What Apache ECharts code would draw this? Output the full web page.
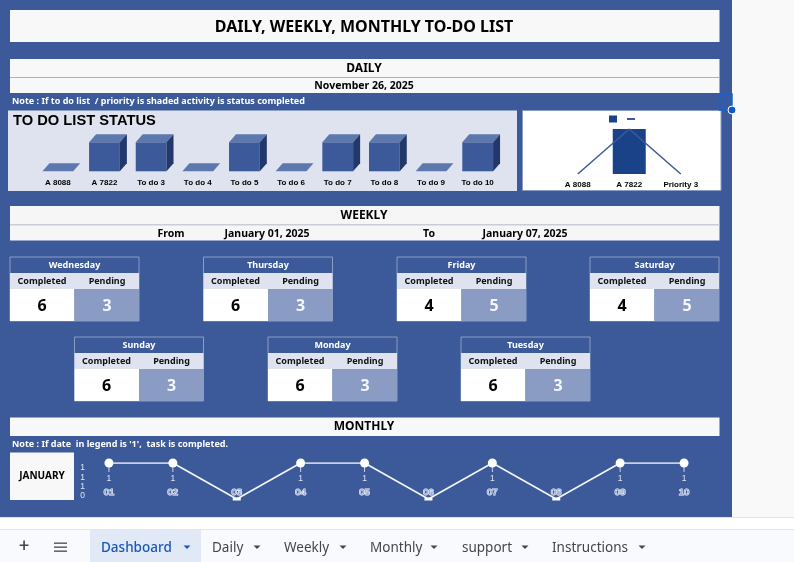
<!DOCTYPE html>
<html>
<head>
<meta charset="utf-8">
<style>
  html, body { margin: 0; padding: 0; background: #fff; }
  #main { width: 794px; height: 562px; }
</style>
</head>
<body>
<div id="main"></div>
<script src="https://cdn.jsdelivr.net/npm/echarts@6/dist/echarts.min.js"></script>
<script>
const todoNames = ['A 8088', 'A 7822', 'To do 3', 'To do 4', 'To do 5', 'To do 6', 'To do 7', 'To do 8', 'To do 9', 'To do 10'];
const todoStatus = [0, 1, 1, 0, 1, 0, 1, 1, 0, 1];

const priorityNames = ['A 8088', 'A 7822', 'Priority 3'];
const priorityBars = [0, 1, 0];
const priorityLine = [0, 1, 0];

const weekDays = ['Wednesday', 'Thursday', 'Friday', 'Saturday', 'Sunday', 'Monday', 'Tuesday'];
const completedCounts = [6, 6, 4, 4, 6, 6, 6];
const pendingCounts = [3, 3, 5, 5, 3, 3, 3];

const monthDays = ['01', '02', '03', '04', '05', '06', '07', '08', '09', '10'];
const monthStatus = [1, 1, 0, 1, 1, 0, 1, 0, 1, 1];
const monthTicks = ['0', '1', '1', '1'];

const sheetTabs = ['Dashboard', 'Daily', 'Weekly', 'Monthly', 'support', 'Instructions'];

const BLUE = '#3c5a99';
const HEAD_FONT = '"Noto Sans", sans-serif';
const LABEL_FONT = '"Liberation Sans", Arial, sans-serif';

function box(x, y, w, h, fill, stroke) {
    return {
        type: 'rect',
        z: 0,
        shape: { x: x, y: y, width: w, height: h },
        style: { fill: fill, stroke: stroke || null, lineWidth: stroke ? 1 : 0 }
    };
}

function label(text, x, y, size, color, align, weight, font) {
    return {
        type: 'text',
        z: 1,
        x: x,
        y: y,
        style: {
            text: text,
            fill: color,
            align: align || 'center',
            verticalAlign: 'middle',
            font: (weight || 'bold') + ' ' + size + 'px ' + (font || HEAD_FONT)
        }
    };
}

// sheet background and section headers
function sheetGraphics() {
    let g = [
        box(0, 0, 794, 562, '#ffffff'),
        box(732, 0, 62, 517, '#f9f9f9'),
        box(0, 0, 732, 517, BLUE),
        box(0, 517, 794, 1, '#e3e3e3'),
        box(0, 529, 794, 1, '#e3e6ea'),
        box(0, 530, 794, 32, '#f8fafd'),

        box(10, 10, 709.5, 32, '#f8f8f8'),
        label('DAILY, WEEKLY, MONTHLY TO-DO LIST', 364, 27, 16, '#000'),

        box(10, 59, 709.5, 34, '#f8f8f8'),
        box(10, 77, 709.5, 1, '#a3b0cf'),
        label('DAILY', 364, 68.5, 12, '#000'),
        label('November 26, 2025', 364, 86.5, 10.5, '#000'),
        label('Note : If to do list  / priority is shaded activity is status completed', 12, 101.5, 9, '#fff', 'left'),

        box(8, 110.5, 509, 80.5, '#dfe3ef'),
        label('TO DO LIST STATUS', 13, 121, 14.7, '#000', 'left', 'bold', LABEL_FONT),
        box(522.5, 110.5, 198.5, 80, '#ffffff', '#8a9bc4'),

        box(10, 206, 709.5, 34.5, '#f6f6f6'),
        box(10, 224, 709.5, 1.5, '#c9cdd6'),
        label('WEEKLY', 364, 215.5, 12, '#000'),
        label('From', 171, 234, 10.5, '#000'),
        label('January 01, 2025', 267, 234, 10.5, '#000'),
        label('To', 429, 234, 10.5, '#000'),
        label('January 07, 2025', 525, 234, 10.5, '#000'),

        box(10, 417.5, 709.5, 18.5, '#f8f8f8'),
        label('MONTHLY', 364, 427, 12, '#000'),
        label("Note : If date  in legend is '1',  task is completed.", 12, 444.5, 9, '#fff', 'left'),
        box(10, 452.5, 64, 47.5, '#f8f8f8'),
        label('JANUARY', 42, 476.5, 10, '#000')
    ];

    // weekly cards, four on the first row and three on the second
    const cardX = [10, 203.5, 397, 590, 74.5, 268, 461];
    const cardY = [257, 257, 257, 257, 337, 337, 337];
    weekDays.forEach(function (day, i) {
        let x = cardX[i], y = cardY[i];
        g.push(
            box(x, y, 129, 64, BLUE, '#8a9bc4'),
            box(x, y + 16, 129, 16, '#dfe3ef'),
            box(x, y + 32, 64.5, 32, '#ffffff'),
            box(x + 64.5, y + 32, 64.5, 32, '#8a9bc4'),
            label(day, x + 64.5, y + 8.5, 9, '#fff'),
            label('Completed', x + 32, y + 24.5, 9, '#111'),
            label('Pending', x + 97, y + 24.5, 9, '#111'),
            label(String(completedCounts[i]), x + 32, y + 49, 16, '#000'),
            label(String(pendingCounts[i]), x + 97, y + 49, 16, '#f4f6fb')
        );
    });

    // selection handle of the spreadsheet
    g.push({
        type: 'rect', z: 5,
        shape: { x: 719.5, y: 94, width: 12.5, height: 16 },
        style: { fill: 'rgba(26,95,208,0.2)', stroke: '#1a5fd0', lineWidth: 1.5 }
    }, {
        type: 'circle', z: 5,
        shape: { cx: 732, cy: 110, r: 4 },
        style: { fill: '#0f57d0', stroke: '#fff', lineWidth: 1 }
    });

    // tab strip
    const tabX = [101, 212, 284, 370, 462, 552];
    const caretX = [187, 257, 343, 434, 525, 642];
    g.push(box(90, 530, 111, 32, '#e1e9f7'));
    sheetTabs.forEach(function (tab, i) {
        let c = i === 0 ? '#1a57b5' : '#444746';
        g.push(label(tab, tabX[i], 548.5, 13.5, c, 'left', i === 0 ? '500' : 'normal'));
        g.push({
            type: 'polygon', z: 1,
            shape: { points: [[caretX[i] - 3.5, 545.5], [caretX[i] + 3.5, 545.5], [caretX[i], 549]] },
            style: { fill: c }
        });
    });
    g.push(label('+', 24, 547, 18, '#444746', 'center', 'normal', 'Roboto, sans-serif'));
    [543, 547, 551].forEach(function (y) {
        g.push(box(54, y - 0.5, 13, 1.3, '#444746'));
    });
    return g;
}

// 3D box: front face plus top and side faces, flat top only for empty values
function renderCube(params, api) {
    let i = api.value(0);
    let base = api.coord([i, 0]);
    let top = api.coord([i, api.value(1)]);
    let w = api.size([1, 0])[0] * 0.66;
    let dx = 7, dy = 8;
    let l = base[0] - w / 2, r = base[0] + w / 2;
    let children = [{
        type: 'polygon',
        shape: { points: [[l, top[1]], [l + dx, top[1] - dy], [r + dx, top[1] - dy], [r, top[1]]] },
        style: { fill: '#5d78ad' }
    }];
    if (base[1] - top[1] > 1) {
        children.push({
            type: 'rect',
            shape: { x: l, y: top[1], width: w, height: base[1] - top[1] },
            style: { fill: BLUE }
        }, {
            type: 'polygon',
            shape: { points: [[r, top[1]], [r + dx, top[1] - dy], [r + dx, base[1] - dy], [r, base[1]]] },
            style: { fill: '#22386a' }
        });
    }
    return { type: 'group', children: children };
}

// short leader from each filled marker down towards its value label
function renderLeader(params, api) {
    if (!api.value(1)) {
        return null;
    }
    let p = api.coord([api.value(0), api.value(1)]);
    return {
        type: 'line',
        shape: { x1: p[0], y1: p[1] + 3, x2: p[0], y2: p[1] + 9 },
        style: { stroke: '#c9d2e6', lineWidth: 1 }
    };
}

let myChart = echarts.init(document.getElementById('main'));

const tickLabel = { fontFamily: LABEL_FONT, fontWeight: 'bold', fontSize: 8, color: '#000', margin: 7 };
const hidden = { show: false };

let option = {
    animation: false,
    graphic: { elements: sheetGraphics() },
    legend: {
        left: 609,
        top: 115.5,
        itemWidth: 8,
        itemHeight: 7,
        itemGap: 10,
        padding: 0,
        selectedMode: false,
        formatter: function () { return ''; },
        data: [
            { name: 'Status', icon: 'rect' },
            { name: 'Priority', icon: 'path://M0 0H8V2H0Z' }
        ]
    },
    grid: [
        { left: 34.5, width: 466.5, top: 142.3, height: 29 },
        { left: 552, width: 154.5, top: 129, height: 45 },
        { left: 77, width: 639, top: 463, height: 36 },
        { left: 87, width: 10, top: 468, height: 27.5 }
    ],
    xAxis: [
        { gridIndex: 0, type: 'category', data: todoNames, axisLine: hidden, axisTick: hidden, axisLabel: Object.assign({ interval: 0 }, tickLabel) },
        { gridIndex: 1, type: 'category', data: priorityNames, axisLine: hidden, axisTick: hidden, axisLabel: Object.assign({ interval: 0 }, tickLabel) },
        {
            gridIndex: 2, type: 'category', data: monthDays, axisLine: hidden, axisTick: hidden,
            axisLabel: {
                interval: 0, inside: true, margin: 2, fontFamily: LABEL_FONT, fontSize: 9.5,
                color: '#8ea3cc', textBorderColor: '#f2f4fa', textBorderWidth: 1.2
            }
        },
        { gridIndex: 3, type: 'value', show: false }
    ],
    yAxis: [
        { gridIndex: 0, type: 'value', min: 0, max: 1, show: false },
        { gridIndex: 1, type: 'value', min: 0, max: 1, show: false },
        { gridIndex: 2, type: 'value', min: 0, max: 1, show: false },
        {
            gridIndex: 3, type: 'category', data: monthTicks, boundaryGap: false,
            axisLine: hidden, axisTick: hidden, splitLine: hidden,
            axisLabel: { interval: 0, margin: 2, fontFamily: LABEL_FONT, fontSize: 8.5, color: '#dfe5f1' }
        }
    ],
    series: [
        {
            type: 'custom',
            xAxisIndex: 0,
            yAxisIndex: 0,
            renderItem: renderCube,
            data: todoStatus.map(function (v, i) { return [i, v]; })
        },
        {
            name: 'Status',
            type: 'bar',
            xAxisIndex: 1,
            yAxisIndex: 1,
            barWidth: 33,
            itemStyle: { color: '#1a4288' },
            data: priorityBars
        },
        {
            name: 'Priority',
            type: 'line',
            xAxisIndex: 1,
            yAxisIndex: 1,
            symbol: 'none',
            lineStyle: { color: BLUE, width: 1.5 },
            itemStyle: { color: BLUE },
            data: priorityLine
        },
        {
            type: 'custom',
            xAxisIndex: 2,
            yAxisIndex: 2,
            z: 1,
            renderItem: renderLeader,
            data: monthStatus.map(function (v, i) { return [i, v]; })
        },
        {
            type: 'line',
            xAxisIndex: 2,
            yAxisIndex: 2,
            symbol: function (v) { return v ? 'circle' : 'rect'; },
            symbolSize: function (v) { return v ? 9 : [8, 3]; },
            showAllSymbol: true,
            lineStyle: { color: '#f4f6fb', width: 1.6 },
            itemStyle: { color: '#fff' },
            label: {
                show: true,
                position: 'bottom',
                distance: 7,
                fontFamily: LABEL_FONT,
                fontSize: 8.5,
                color: '#dfe5f1',
                formatter: function (p) { return p.value ? String(p.value) : ''; }
            },
            data: monthStatus
        }
    ]
};

myChart.setOption(option);
</script>
</body>
</html>
